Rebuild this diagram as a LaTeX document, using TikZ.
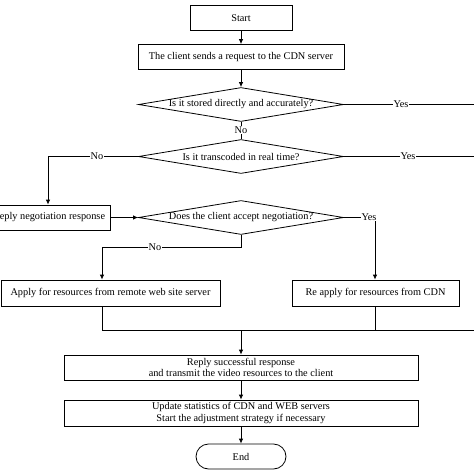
\documentclass[tikz,border=0pt]{standalone}
\usepackage{fontspec}
\setmainfont{Liberation Serif}
\usetikzlibrary{shapes.geometric,arrows.meta}
\tikzset{
  txt/.style={font=\fontsize{10.3}{11.5}\selectfont},
  box/.style={draw, line width=0.8pt, minimum height=25pt, inner sep=1pt, txt, align=center},
  dec/.style={draw, diamond, aspect=5.9, line width=0.8pt, inner sep=0pt, minimum width=205pt, minimum height=34pt, txt},
  term/.style={draw, rounded corners=12.5pt, line width=0.8pt, minimum width=90pt, minimum height=25pt, txt},
  lbl/.style={fill=white, inner sep=0.5pt, txt},
  conn/.style={line width=0.8pt},
  arr/.style={line width=0.8pt, -{Latex[length=5pt,width=4.5pt]}}
}
\begin{document}
\begin{tikzpicture}[x=1pt,y=-1pt]
\useasboundingbox (0,0) rectangle (474,474);
\node[box, minimum width=102pt] (start) at (241,18) {Start};
\node[box, minimum width=206pt] (req) at (241,57) {The client sends a request to the CDN server};
\node[dec] (d1) at (241,104.5) {Is it stored directly and accurately?};
\node[dec] (d2) at (241,156.5) {Is it transcoded in real time?};
\node[box, minimum width=122pt] (neg) at (49,217.5) {Reply negotiation response};
\node[dec] (d3) at (241,217.5) {Does the client accept negotiation?};
\node[box, minimum width=219pt, minimum height=26pt] (web) at (110.5,293) {Apply for resources from remote web site server};
\node[box, minimum width=167pt, minimum height=26pt] (cdn) at (375.5,293) {Re apply for resources from CDN};
\node[box, minimum width=354pt] (succ) at (241,367.5) {Reply successful response\\and transmit the video resources to the client};
\node[box, minimum width=354pt, minimum height=26pt] (upd) at (241,413) {Update statistics of CDN and WEB servers\\Start the adjustment strategy if necessary};
\node[term] (end) at (241,456.5) {End};

\coordinate (r1) at (476,104.5);
\coordinate (r2) at (476,156.5);
\coordinate (rb) at (476,330);
\coordinate (jl) at (102,330);
\coordinate (jm) at (241,330);
\coordinate (yc) at (375,217.5);
\coordinate (nc) at (241,247);
\coordinate (nl) at (102,247);
\coordinate (nn) at (48,156.5);

\draw[arr] (start) -- (req);
\draw[arr] (req) -- (d1);
\draw[conn] (d1.south) -- (d2.north);
\node[lbl] (no1) at (241,130) {No};
\draw[conn] (d1.east) -- (r1) -- (rb);
\node[lbl] (yes1) at (401,104.5) {Yes};
\draw[conn] (d2.east) -- (r2);
\node[lbl] (yes2) at (408,156.5) {Yes};
\draw[arr] (d2.west) -- (nn) -- (neg.north -| nn);
\node[lbl] (no2) at (97,156.5) {No};
\draw[arr] (neg.east) -- (d3.west);
\draw[arr] (d3.east) -- (yc) -- (cdn.north -| yc);
\node[lbl] (yes3) at (369,217.5) {Yes};
\draw[arr] (d3.south) -- (nc) -- (nl) -- (web.north -| nl);
\node[lbl] (no3) at (155,247) {No};
\draw[conn] (web.south -| jl) -- (jl) -- (rb);
\draw[conn] (cdn.south -| yc) -- (yc |- jl);
\draw[arr] (jm) -- (succ.north);
\draw[arr] (succ) -- (upd);
\draw[arr] (upd) -- (end);
\end{tikzpicture}
\end{document}
